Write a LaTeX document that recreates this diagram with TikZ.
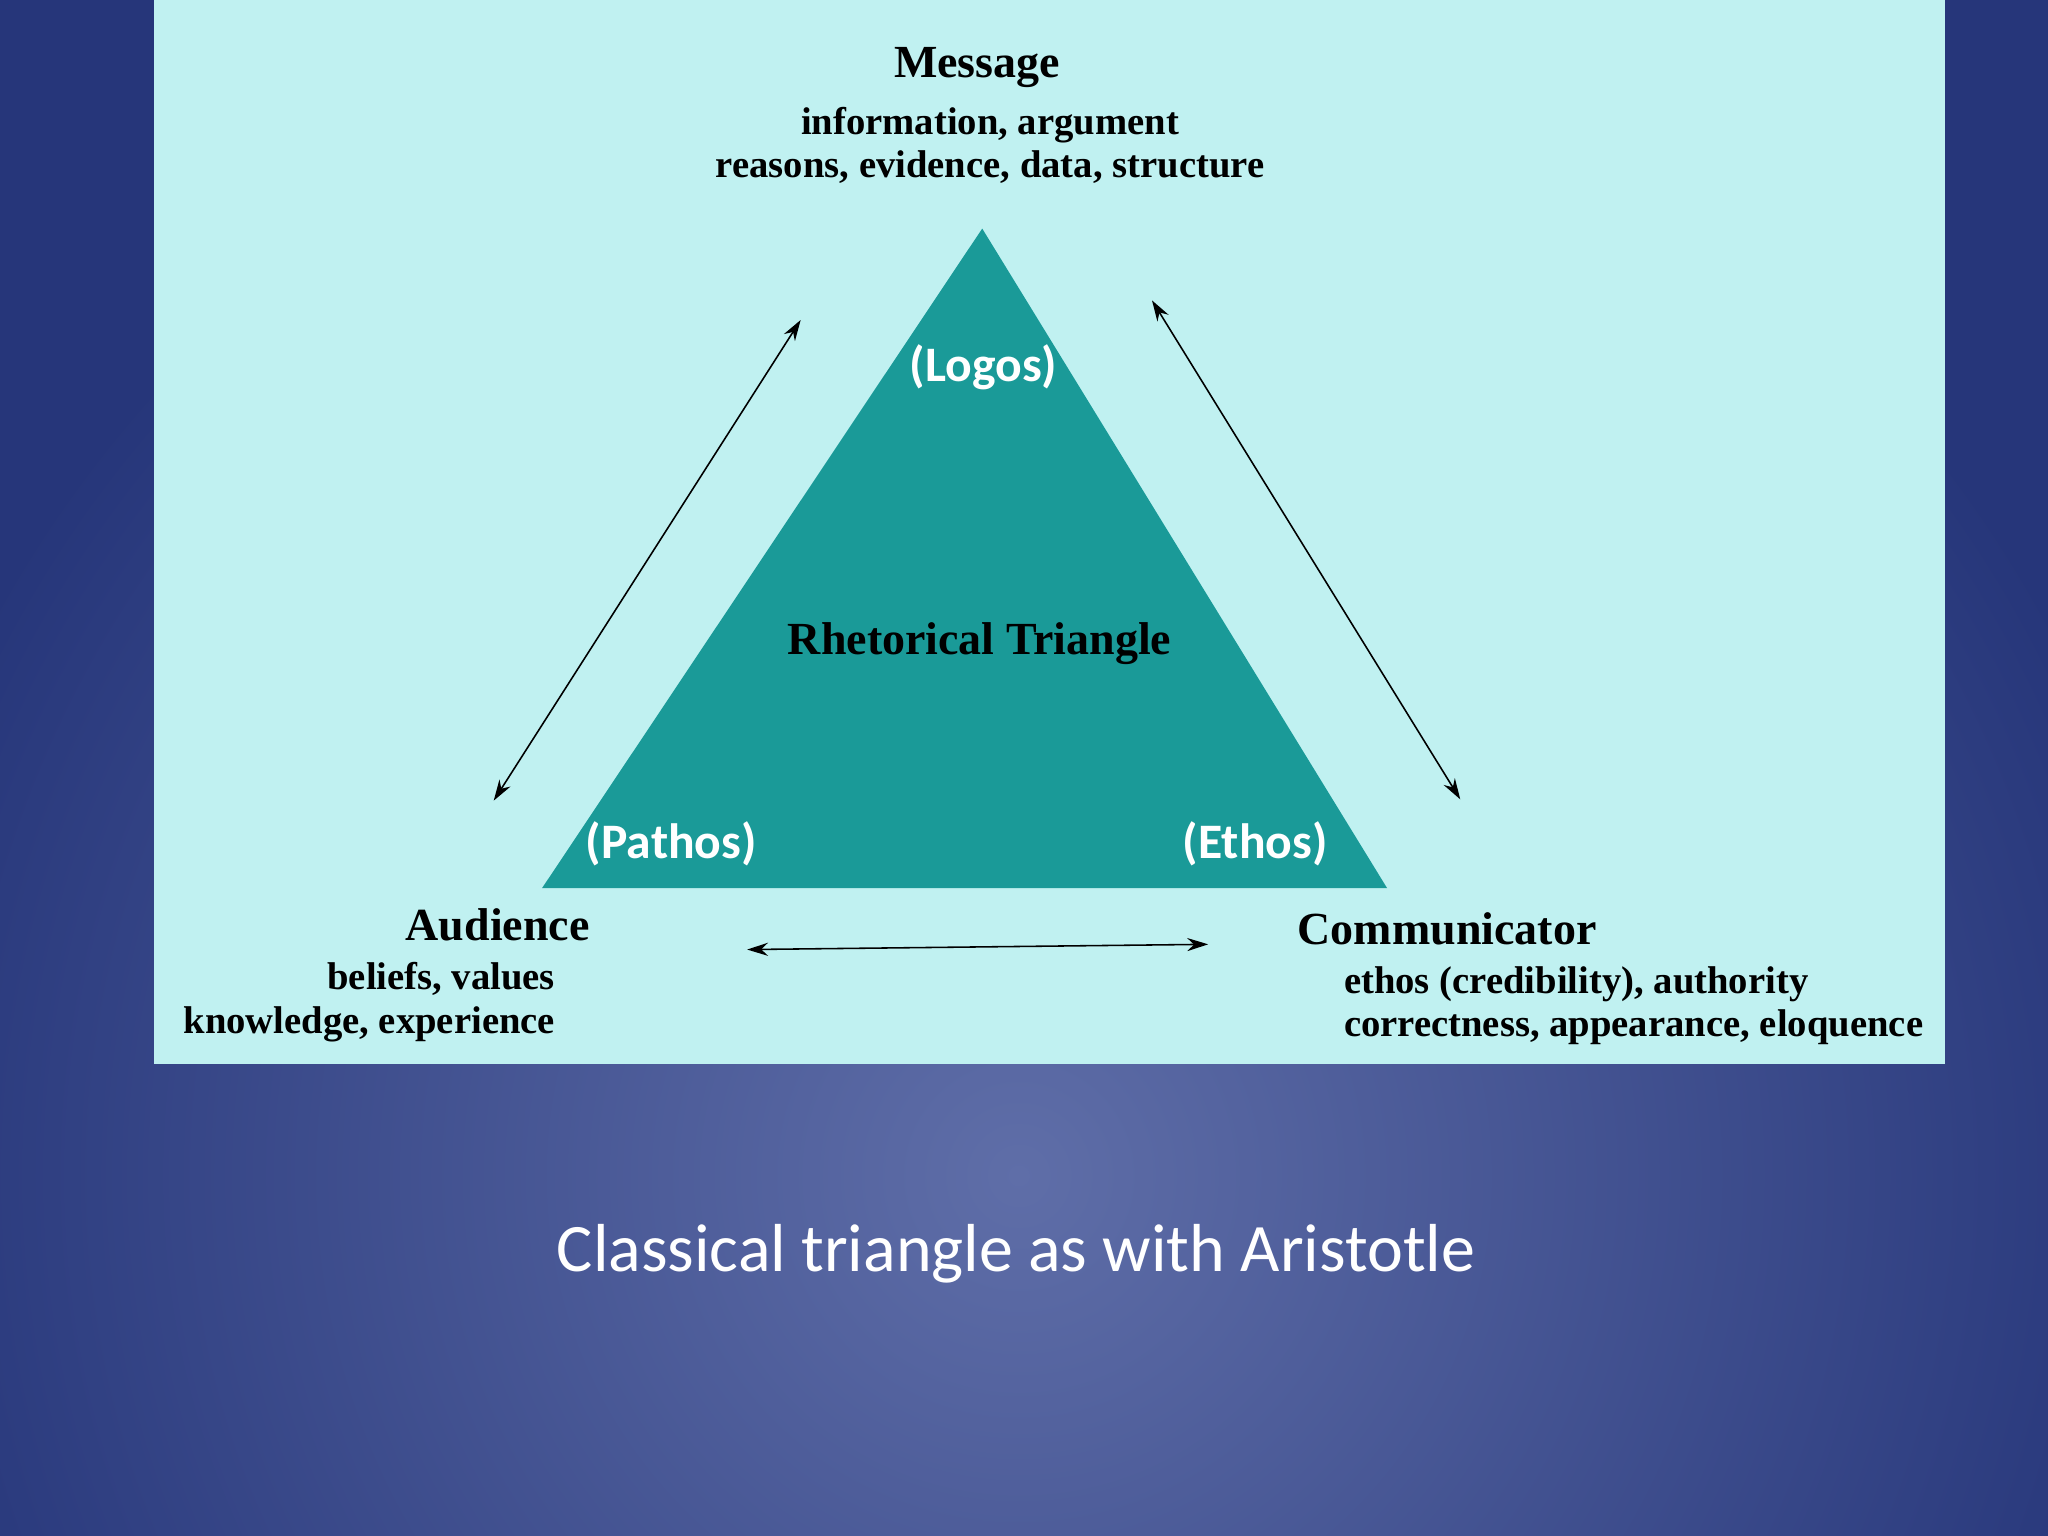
\documentclass[tikz,border=0pt]{standalone}
\usepackage{fontspec}
\setmainfont{Liberation Serif}
\newfontfamily\carlitofam{Carlito}
\usetikzlibrary{arrows.meta}
\definecolor{panel}{HTML}{C0F1F1}
\definecolor{tealc}{HTML}{1A9A98}
\definecolor{bgin}{HTML}{5F6EA8}
\definecolor{bgout}{HTML}{26367A}
\tikzset{
 title/.style={font=\bfseries\fontsize{17.6}{21}\selectfont},
 sub/.style={font=\bfseries\fontsize{14.8}{16.5}\selectfont, align=center},
 lbl/.style={font=\carlitofam\bfseries\fontsize{19}{21}\selectfont, text=white},
 dbl/.style={{Stealth[length=8pt,width=5pt]}-{Stealth[length=8pt,width=5pt]}, line width=0.6pt}
}
\begin{document}
\begin{tikzpicture}[x=0.5pt,y=-0.5pt]
\useasboundingbox (0,0) rectangle (1568,1176);
\fill[bgout] (0,0) rectangle (1568,1176);
\clip (0,0) rectangle (1568,1176);
\shade[inner color=bgin, outer color=bgout] (780,900) circle (900);
\fill[panel] (118,0) rectangle (1489,815);
\fill[tealc] (752,175) -- (1062,680) -- (415,680) -- cycle;
\node[title] (msg) at (748,52) {Message};
\node[sub] (msgs) at (758,111) {information, argument\\reasons, evidence, data, structure};
\node[title] (aud) at (381,708) {Audience};
\node[sub, align=right, anchor=north east] (auds) at (432,730) {beliefs, values\\knowledge, experience};
\node[title] (com) at (1108,711) {Communicator};
\node[sub, align=left, anchor=north west] (coms) at (1022,733) {ethos (credibility), authority\\correctness, appearance, eloquence};
\node[title] (rt) at (750,493) {Rhetorical Triangle};
\node[lbl] (logos) at (753,281) {(Logos)};
\node[lbl] (pathos) at (514,646) {(Pathos)};
\node[lbl] (ethos) at (961,646) {(Ethos)};
\coordinate (a1) at (613,245); \coordinate (a2) at (378,613);
\coordinate (b1) at (882,230); \coordinate (b2) at (1118,612);
\coordinate (c1) at (572,727); \coordinate (c2) at (925,723);
\draw[dbl] (a1) -- (a2);
\draw[dbl] (b1) -- (b2);
\draw[dbl] (c1) -- (c2);
\node[font=\carlitofam\fontsize{26}{30}\selectfont, text=white] (cap) at (778,960) {Classical triangle as with Aristotle};
\end{tikzpicture}
\end{document}
